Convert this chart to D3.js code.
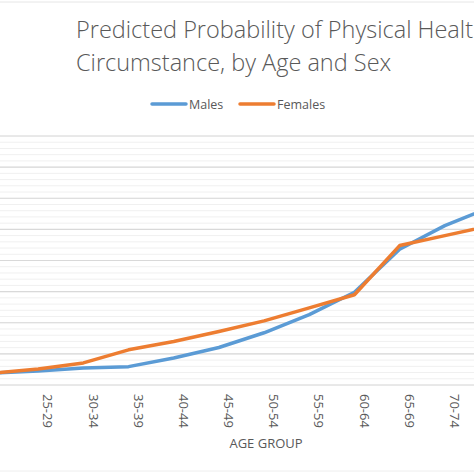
<!DOCTYPE html>
<html><head><meta charset="utf-8">
<script src="https://cdn.jsdelivr.net/npm/d3@7"></script>
<style>body{margin:0;background:#fff}svg{display:block}</style>
</head><body>
<script>
const categories = ["20-24","25-29","30-34","35-39","40-44","45-49","50-54","55-59","60-64","65-69","70-74","75-79"];
const shownTicks = ["25-29","30-34","35-39","40-44","45-49","50-54","55-59","60-64","65-69","70-74"];
const males   = [0.019,0.0226,0.0274,0.0295,0.0435,0.0602,0.0839,0.113,0.149,0.218,0.256,0.285];
const females = [0.019,0.0258,0.0355,0.0565,0.0698,0.086,0.103,0.124,0.145,0.224,0.240,0.256];
const W=474,H=474;
const svg=d3.select("body").append("svg").attr("width",W).attr("height",H);
svg.append("line").attr("x1",0).attr("x2",W).attr("y1",2).attr("y2",2).attr("stroke","#e6e6e6");
svg.append("line").attr("x1",0).attr("x2",W).attr("y1",471).attr("y2",471).attr("stroke","#eeeeee");
const x=d3.scalePoint().domain(categories).range([-7,490]);
const y=d3.scaleLinear().domain([0,0.4]).range([385,136]);
const minor=d3.range(0,0.4001,0.01), major=d3.range(0,0.4001,0.05);
svg.append("g").selectAll("line").data(minor).join("line")
 .attr("x1",0).attr("x2",W).attr("y1",d=>y(d)).attr("y2",d=>y(d)).attr("stroke","#f0f0f0").attr("stroke-width",1);
svg.append("g").selectAll("line").data(major).join("line")
 .attr("x1",0).attr("x2",W).attr("y1",d=>y(d)).attr("y2",d=>y(d)).attr("stroke","#d9d9d9").attr("stroke-width",1.2);
const ax=svg.append("g").attr("transform","translate(0,385)").call(d3.axisBottom(x).tickValues(shownTicks).tickSize(0));
ax.select(".domain").remove();
ax.selectAll("text").attr("transform","rotate(90)").attr("text-anchor","start").attr("dy","-0.36em")
 .attr("x",9).attr("y",0).style("font-family","Open Sans").style("font-size","13px").attr("fill","#595959");
const line=d3.line().x((d,i)=>x(categories[i])).y(d=>y(d));
svg.append("path").datum(males).attr("d",line).attr("fill","none").attr("stroke","#5b9bd5").attr("stroke-width",3.5).attr("stroke-linejoin","round");
svg.append("path").datum(females).attr("d",line).attr("fill","none").attr("stroke","#ed7d31").attr("stroke-width",3.5).attr("stroke-linejoin","round");
svg.append("text").attr("x",266).attr("y",448).attr("text-anchor","middle").style("font-family","Open Sans").style("font-size","13px").attr("fill","#595959").text("AGE GROUP");
const t=svg.append("g").style("font-family","Open Sans").style("font-size","23.5px").style("font-weight","300").attr("fill","#595959");
t.append("text").attr("x",76).attr("y",38).text("Predicted Probability of Physical Health");
t.append("text").attr("x",76).attr("y",71).text("Circumstance, by Age and Sex");
const leg=[["Males","#5b9bd5",152],["Females","#ed7d31",240]];
leg.forEach(([n,c,lx])=>{
 svg.append("line").attr("x1",lx).attr("x2",lx+34).attr("y1",104).attr("y2",104).attr("stroke",c).attr("stroke-width",3.5).attr("stroke-linecap","round");
 svg.append("text").attr("x",lx+37).attr("y",108.5).style("font-family","Open Sans").style("font-size","12.5px").attr("fill","#595959").text(n);
});
</script>
</body></html>
